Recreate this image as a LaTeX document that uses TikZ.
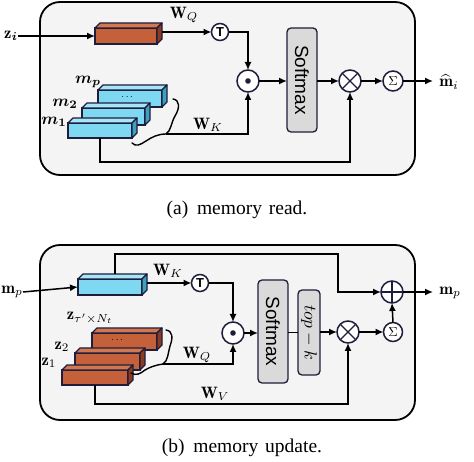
\documentclass[tikz,border=0pt]{standalone}
\usepackage{amsmath,bm}
\usepackage{fontspec}
\usetikzlibrary{arrows.meta,calc}
\newfontfamily\capfont{Liberation Serif}
\newfontfamily\helv{Liberation Sans}
\definecolor{navy}{HTML}{1E1E3C}
\definecolor{panelbg}{HTML}{F4F4F4}
\definecolor{orng}{HTML}{C4603A}
\definecolor{orngdark}{HTML}{8E3A1E}
\definecolor{orngtop}{HTML}{D2774F}
\definecolor{cyanf}{HTML}{7ED8F2}
\definecolor{cyandark}{HTML}{3E9FC0}
\definecolor{cyantop}{HTML}{A6E6F8}
\definecolor{smgray}{HTML}{DADADA}
\newcommand{\cuboid}[8]{%
  \node[cubefront, fill=#6, minimum width=#4pt, minimum height=#5pt] (#1) at (#2,#3) {};
  \draw[cubeedge, fill=#8] (#1.north west) -- ++(5,-5) -- ++(#4,0) -- (#1.north east) -- cycle;
  \draw[cubeedge, fill=#7] (#1.north east) -- ++(5,-5) -- ++(0,#5) -- (#1.south east) -- cycle;
}
\begin{document}
\begin{tikzpicture}[x=1pt,y=-1pt,
  panel/.style={draw=black, line width=1.8pt, fill=panelbg, rounded corners=20pt},
  conn/.style={line width=1.5pt, draw=black},
  arr/.style={conn, -{Latex[length=8pt,width=7pt]}},
  op/.style={circle, draw=navy, line width=1.5pt, fill=white, inner sep=0pt, outer sep=0pt, minimum size=#1},
  op/.default=22pt,
  cubefront/.style={draw=navy, line width=1.3pt, inner sep=0pt, outer sep=0pt},
  cubeedge/.style={draw=navy, line width=1.3pt, line join=round},
  smbox/.style={draw=navy, line width=1.3pt, fill=smgray, rounded corners=4pt, inner sep=0pt, outer sep=0pt},
  lbl/.style={inner sep=0pt, scale=1.65},
  capt/.style={inner sep=0pt, font=\capfont\fontsize{19.5}{21}\selectfont},
  brace/.style={line width=1.4pt, draw=black, line cap=round},
]
\useasboundingbox (0,0) rectangle (474,462);

% ================= (a) memory read =================
\draw[panel] (40,2) rectangle (415,175);

\node[lbl] (zi) at (11,36) {$\mathbf{z}_{\bm{i}}$};
\cuboid{qbox}{126}{36}{62}{16}{orng}{orngdark}{orngtop}
\node[op=17pt, font=\helv\bfseries\fontsize{13}{13}\selectfont] (T1) at (220,32) {T};
\node[lbl] (wq1) at (184,15) {$\mathbf{W}_{Q}$};
\node[op] (dot1) at (248,81) {};
\fill[navy] (dot1) circle (2.8);
\node[smbox, minimum width=30pt, minimum height=104pt] (sm1) at (302,80) {\rotatebox{-90}{\helv\fontsize{19}{19}\selectfont Softmax}};
\node[op] (ot1) at (350,81) {};
\draw[navy, line width=1.3pt] (ot1.north east) -- (ot1.south west) (ot1.north west) -- (ot1.south east);
\node[op=20pt] (sg1) at (393,81) {\scalebox{1.3}{$\Sigma$}};
\node[lbl, anchor=west] (mh) at (439,82) {$\widehat{\mathbf{m}}_{i}$};

\cuboid{mp}{130}{98.5}{64}{17}{cyanf}{cyandark}{cyantop}
\node[inner sep=0pt] (mpdots) at (128,97) {$\cdots$};
\cuboid{m2}{113.5}{116.5}{63}{17}{cyanf}{cyandark}{cyantop}
\cuboid{m1}{100}{130.5}{64}{15}{cyanf}{cyandark}{cyantop}
\node[lbl] (lmp) at (88,82) {$\bm{m}_{\bm{p}}$};
\node[lbl] (lm2) at (65,104) {$\bm{m}_{\bm{2}}$};
\node[lbl] (lm1) at (54,122) {$\bm{m}_{\bm{1}}$};

\draw[brace] (173,99) .. controls (180,100) and (180,108) .. (175,116) .. controls (171,123) and (171,131) .. (166,134) .. controls (158,134) and (152,137) .. (146,141) .. controls (140,145) and (136,147) .. (132,143);
\coordinate (bt1) at (166,134);
\node[lbl] (wk1) at (208,125) {$\mathbf{W}_{K}$};
\coordinate (low1) at (0,162);
\coordinate (out1) at (433,81);

\draw[arr] (zi.east) -- (qbox.west);
\draw[arr] ([xshift=5pt]qbox.east |- T1) -- (T1.west);
\draw[arr] (T1.east) -- (dot1 |- T1) -- (dot1.north);
\draw[arr] (bt1) -- (dot1 |- bt1) -- (dot1.south);
\draw[arr] (dot1.east) -- (sm1.west |- dot1);
\draw[arr] (sm1.east |- ot1) -- (ot1.west);
\draw[arr] (ot1.east) -- (sg1.west);
\draw[arr] (sg1.east) -- (out1);
\draw[arr] (m1.south) -- (m1 |- low1) -- (ot1 |- low1) -- (ot1.south);

\node[capt] (capa) at (237,210) {(a)\hspace{0.45em}memory\hspace{0.1em} read.};

% ================= (b) memory update =================
\draw[panel] (40,245) rectangle (415,420);

\node[lbl] (mpin) at (12,292) {$\mathbf{m}_{p}$};
\cuboid{kbox}{110}{287}{64}{16}{cyanf}{cyandark}{cyantop}
\node[op=17pt, font=\helv\bfseries\fontsize{13}{13}\selectfont] (T2) at (200,283) {T};
\node[lbl] (wk2) at (168,271) {$\mathbf{W}_{K}$};
\node[op] (dot2) at (233,333) {};
\fill[navy] (dot2) circle (2.8);
\node[smbox, minimum width=30pt, minimum height=103pt] (sm2) at (273,331.5) {\rotatebox{-90}{\helv\fontsize{19}{19}\selectfont Softmax}};
\node[smbox, minimum width=22pt, minimum height=85pt] (tk) at (309,332.5) {\rotatebox{-90}{\scalebox{1.75}{$top-k$}}};
\node[op] (ot2) at (348,332) {};
\draw[navy, line width=1.3pt] (ot2.north east) -- (ot2.south west) (ot2.north west) -- (ot2.south east);
\node[op=19pt] (sg2) at (393,332) {\scalebox{1.3}{$\Sigma$}};
\node[op] (pl) at (392,292) {};
\draw[navy, line width=1.3pt] (pl.north) -- (pl.south) (pl.west) -- (pl.east);
\node[lbl, anchor=west] (mpout) at (439,293) {$\mathbf{m}_{p}$};
\coordinate (out2) at (433,292);

\cuboid{ztop}{124.5}{341.5}{65}{17}{orng}{orngdark}{orngtop}
\node[inner sep=0pt] (zdots) at (118,340) {$\cdots$};
\cuboid{z2}{107.5}{361.5}{65}{17}{orng}{orngdark}{orngtop}
\cuboid{z1}{95}{377.5}{66}{15}{orng}{orngdark}{orngtop}
\node[lbl] (lzt) at (90,318) {$\mathbf{z}_{\tau'\times N_t}$};
\node[lbl] (lz2) at (62,347) {$\mathbf{z}_{2}$};
\node[lbl] (lz1) at (49,363) {$\mathbf{z}_{1}$};

\draw[brace] (166,330) .. controls (173,331) and (173,338) .. (170,346) .. controls (168,353) and (168,361) .. (163,364) .. controls (156,365) and (150,367) .. (145,370) .. controls (140,374) and (136,376) .. (131,373);
\coordinate (bt2) at (163,364);
\node[lbl] (wq2) at (197,355) {$\mathbf{W}_{Q}$};
\node[lbl] (wv2) at (215,394) {$\mathbf{W}_{V}$};
\coordinate (high2) at (0,254);
\coordinate (turn2) at (338,0);
\coordinate (low2) at (0,404);

\draw[arr] (mpin.east) -- (kbox.west);
\draw[arr] ([xshift=5pt]kbox.east |- T2) -- (T2.west);
\draw[arr] (T2.east) -- (dot2 |- T2) -- (dot2.north);
\draw[arr] (bt2) -- (dot2 |- bt2) -- (dot2.south);
\draw[arr] (dot2.east) -- (sm2.west |- dot2);
\draw[conn] (sm2.east |- tk) -- (tk.west);
\draw[arr] (tk.east |- ot2) -- (ot2.west);
\draw[arr] (ot2.east) -- (sg2.west);
\draw[arr] (sg2.north) -- (pl.south);
\draw[arr] ([xshift=5pt,yshift=5pt]kbox.north) -- ([xshift=5pt]kbox.north |- high2) -- (turn2 |- high2) -- (turn2 |- pl) -- (pl.west);
\draw[arr] (pl.east) -- (out2);
\draw[arr] (z1.south) -- (z1 |- low2) -- (ot2 |- low2) -- (ot2.south);

\node[capt] (capb) at (242,448) {(b)\hspace{0.45em}memory\hspace{0.1em} update.};
\end{tikzpicture}
\end{document}
